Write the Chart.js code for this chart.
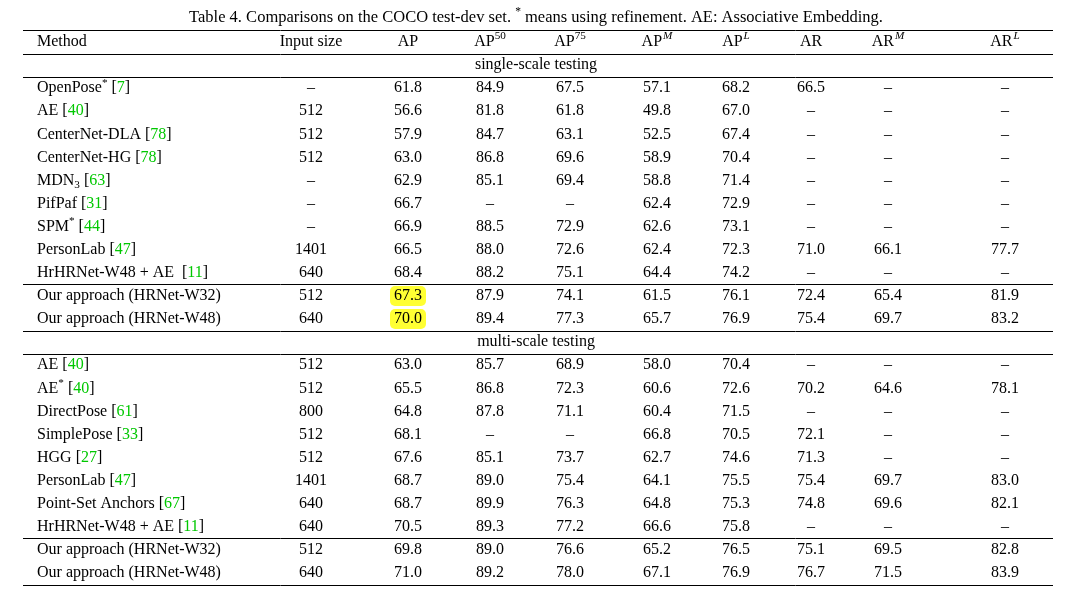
<!DOCTYPE html>
<html>
<head>
<meta charset="utf-8">
<script src="https://cdn.jsdelivr.net/npm/chart.js@4"></script>
<style>
  body { margin: 0; background: #fff; }
</style>
</head>
<body>
<canvas id="table" width="1072" height="603"></canvas>
<script>
const title = "Table 4. Comparisons on the COCO test-dev set. ^{*} means using refinement. AE: Associative Embedding.";
const headers = ["Method", "Input size", "AP", "AP^{50}", "AP^{75}", "AP^{~M}", "AP^{~L}", "AR", "AR^{~M}", "AR^{~L}"];
const sections = ["single-scale testing", "multi-scale testing"];

const methods = [
  "OpenPose^{*} [7]", "AE [40]", "CenterNet-DLA [78]", "CenterNet-HG [78]", "MDN_{3} [63]",
  "PifPaf [31]", "SPM^{*} [44]", "PersonLab [47]", "HrHRNet-W48 + AE  [11]",
  "Our approach (HRNet-W32)", "Our approach (HRNet-W48)",
  "AE [40]", "AE^{*} [40]", "DirectPose [61]", "SimplePose [33]", "HGG [27]",
  "PersonLab [47]", "Point-Set Anchors [67]", "HrHRNet-W48 + AE [11]",
  "Our approach (HRNet-W32)", "Our approach (HRNet-W48)"
];
const inputSize = [null, 512, 512, 512, null, null, null, 1401, 640, 512, 640,
  512, 512, 800, 512, 512, 1401, 640, 640, 512, 640];
const ap   = [61.8, 56.6, 57.9, 63.0, 62.9, 66.7, 66.9, 66.5, 68.4, 67.3, 70.0,
  63.0, 65.5, 64.8, 68.1, 67.6, 68.7, 68.7, 70.5, 69.8, 71.0];
const ap50 = [84.9, 81.8, 84.7, 86.8, 85.1, null, 88.5, 88.0, 88.2, 87.9, 89.4,
  85.7, 86.8, 87.8, null, 85.1, 89.0, 89.9, 89.3, 89.0, 89.2];
const ap75 = [67.5, 61.8, 63.1, 69.6, 69.4, null, 72.9, 72.6, 75.1, 74.1, 77.3,
  68.9, 72.3, 71.1, null, 73.7, 75.4, 76.3, 77.2, 76.6, 78.0];
const apM  = [57.1, 49.8, 52.5, 58.9, 58.8, 62.4, 62.6, 62.4, 64.4, 61.5, 65.7,
  58.0, 60.6, 60.4, 66.8, 62.7, 64.1, 64.8, 66.6, 65.2, 67.1];
const apL  = [68.2, 67.0, 67.4, 70.4, 71.4, 72.9, 73.1, 72.3, 74.2, 76.1, 76.9,
  70.4, 72.6, 71.5, 70.5, 74.6, 75.5, 75.3, 75.8, 76.5, 76.9];
const ar   = [66.5, null, null, null, null, null, null, 71.0, null, 72.4, 75.4,
  null, 70.2, null, 72.1, 71.3, 75.4, 74.8, null, 75.1, 76.7];
const arM  = [null, null, null, null, null, null, null, 66.1, null, 65.4, 69.7,
  null, 64.6, null, null, null, 69.7, 69.6, null, 69.5, 71.5];
const arL  = [null, null, null, null, null, null, null, 77.7, null, 81.9, 83.2,
  null, 78.1, null, null, null, 83.0, 82.1, null, 82.8, 83.9];
const highlighted = [9, 10]; // AP cells marked in yellow

// layout constants (pixels / row units)
const colX = [37, 311, 408, 490, 570, 657, 736, 811, 888, 1005];
const tableLeft = 23, tableRight = 1053;
const rowMin = -1.819, rowMax = 24.299;

// row layout: header, section, 11 rows, section, 10 rows
const rowKinds = [];
rowKinds.push({ kind: "header" });
rowKinds.push({ kind: "section", text: sections[0] });
for (let i = 0; i < 11; i++) rowKinds.push({ kind: "data", i });
rowKinds.push({ kind: "section", text: sections[1] });
for (let i = 11; i < 21; i++) rowKinds.push({ kind: "data", i });
const ruleAfter = [-1, 0, 1, 10, 12, 13, 21, 23];

const columns = [methods, inputSize, ap, ap50, ap75, apM, apL, ar, arM, arL];
const points = [];
rowKinds.forEach((r, row) => {
  if (r.kind !== "data") return;
  columns.forEach((col, c) => points.push({ x: colX[c], y: row, c, i: r.i }));
});

const FONT = '"Liberation Serif", "DejaVu Serif", serif';

function tokens(str) {
  // ^{x} superscript (~ = italic), _{x} subscript, [n] citation (green number)
  const out = [];
  const re = /\^\{([^}]*)\}|_\{([^}]*)\}|\[(\d+)\]|([^\^_\[]+)/g;
  let m;
  while ((m = re.exec(str))) {
    if (m[1] !== undefined) {
      const it = m[1].startsWith("~");
      out.push({ t: it ? m[1].slice(1) : m[1], mode: "sup", italic: it });
    }
    else if (m[2] !== undefined) out.push({ t: m[2], mode: "sub" });
    else if (m[3]) { out.push({ t: "[" }); out.push({ t: m[3], green: true }); out.push({ t: "]" }); }
    else out.push({ t: m[4] });
  }
  return out;
}

function rich(ctx, str, x, y, align, size) {
  const toks = tokens(String(str));
  const fontFor = (tk) => (tk.italic ? "italic " : "") + (tk.mode ? (size * 0.7) : size) + "px " + FONT;
  let w = 0;
  toks.forEach(tk => { ctx.font = fontFor(tk); w += ctx.measureText(tk.t).width + (tk.italic ? 1 : 0); });
  let cx = align === "center" ? x - w / 2 : x;
  ctx.textAlign = "left";
  ctx.textBaseline = "middle";
  toks.forEach(tk => {
    ctx.font = fontFor(tk);
    ctx.fillStyle = tk.green ? "#00c800" : "#000";
    const dy = tk.mode === "sup" ? -size * 0.35 : tk.mode === "sub" ? size * 0.3 : 0;
    if (tk.italic) cx += 1;
    ctx.fillText(tk.t, cx, y + dy);
    cx += ctx.measureText(tk.t).width;
  });
}

const tablePlugin = {
  id: "tablePlugin",
  afterDatasetsDraw(chart) {
    const { ctx, scales: { x, y } } = chart;
    ctx.save();
    rich(ctx, title, x.getPixelForValue(536), y.getPixelForValue(-1) - 1, "center", 16.5);

    ctx.strokeStyle = "#000";
    ctx.lineWidth = 1;
    ruleAfter.forEach(r => {
      const py = Math.round(y.getPixelForValue(r + 0.5)) + 0.5;
      ctx.beginPath();
      ctx.moveTo(x.getPixelForValue(tableLeft), py);
      ctx.lineTo(x.getPixelForValue(tableRight), py);
      ctx.stroke();
    });

    rowKinds.forEach((r, row) => {
      const py = y.getPixelForValue(row);
      if (r.kind === "header") {
        headers.forEach((h, c) => rich(ctx, h, x.getPixelForValue(colX[c]), py, c === 0 ? "left" : "center", 16));
      } else if (r.kind === "section") {
        rich(ctx, r.text, x.getPixelForValue(536), py, "center", 16);
      }
    });

    chart.data.datasets[0].data.forEach(p => {
      const px = x.getPixelForValue(p.x), py = y.getPixelForValue(p.y);
      const v = columns[p.c][p.i];
      let txt = v === null ? "–" : (p.c >= 2 ? v.toFixed(1) : String(v));
      if (p.c === 2 && highlighted.includes(p.i)) {
        ctx.fillStyle = "#ffff33";
        ctx.beginPath();
        ctx.roundRect(px - 18, py - 10, 36, 20, 5);
        ctx.fill();
      }
      rich(ctx, txt, px, py, p.c === 0 ? "left" : "center", 16);
    });
    ctx.restore();
  }
};

new Chart(document.getElementById("table"), {
  type: "scatter",
  data: { datasets: [{ data: points, pointRadius: 0, pointHoverRadius: 0 }] },
  options: {
    responsive: false,
    animation: false,
    events: [],
    layout: { padding: 0 },
    plugins: { legend: { display: false }, tooltip: { enabled: false }, title: { display: false } },
    scales: {
      x: { type: "linear", min: 0, max: 1072, display: false },
      y: { type: "linear", min: rowMin, max: rowMax, reverse: true, display: false }
    }
  },
  plugins: [tablePlugin]
});
</script>
</body>
</html>
